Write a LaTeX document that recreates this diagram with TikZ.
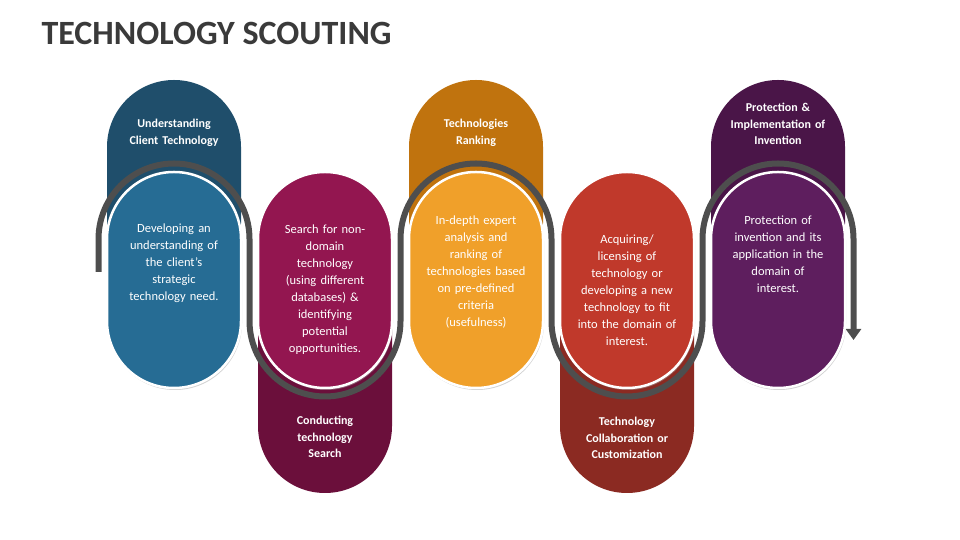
\documentclass[tikz,border=0pt]{standalone}
\usepackage{fontspec}
\setmainfont{Carlito}
\usetikzlibrary{arrows.meta}
\definecolor{cA}{HTML}{1F4E6B}\definecolor{cAf}{HTML}{266C94}
\definecolor{cB}{HTML}{6B0F3B}\definecolor{cBf}{HTML}{931650}
\definecolor{cC}{HTML}{C0730E}\definecolor{cCf}{HTML}{F0A02A}
\definecolor{cD}{HTML}{8B2A22}\definecolor{cDf}{HTML}{C0392B}
\definecolor{cE}{HTML}{4A1548}\definecolor{cEf}{HTML}{5E1E5E}
\definecolor{ttl}{HTML}{3A3A3A}
\tikzset{
 backpill/.style={rounded corners=66.9pt},
 frontpill/.style={rounded corners=66.9pt, draw=white, line width=2.5pt},
 lbl/.style={text=white, font=\bfseries\fontsize{12}{16.5}\selectfont, align=center, text width=120pt},
 body/.style={text=white, font=\fontsize{12.5}{17}\selectfont, align=center, text width=120pt},
 snake/.style={draw=ttl!90, line width=6pt},
}
\begin{document}
\begin{tikzpicture}[x=1pt,y=1pt]
\useasboundingbox (0,0) rectangle (960,540);
\node[anchor=west, text=ttl, font=\bfseries\fontsize{34}{40}\selectfont] (title) at (38,507) {TECHNOLOGY SCOUTING};
% back pills
\fill[cA,backpill] (107,250) rectangle (241,460);
\fill[cB,backpill] (258,47) rectangle (392,290);
\fill[cC,backpill] (409,250) rectangle (543,460);
\fill[cD,backpill] (560,47) rectangle (694,290);
\fill[cE,backpill] (711,250) rectangle (845,460);
% serpentine
\coordinate (s0) at (98.5,268);
\coordinate (s9) at (853.5,200);
\draw[snake,-{Triangle[width=15pt,length=11pt]}] (s0) -- (98.5,301) arc(180:0:75.5) -- (249.5,219) arc(180:360:75.5) -- (400.5,301) arc(180:0:75.5) -- (551.5,219) arc(180:360:75.5) -- (702.5,301) arc(180:0:75.5) -- (s9);
% front pills
\foreach \x/\c in {174/cAf,325/cBf,476/cCf,627/cDf,778/cEf}{
 \fill[black!35,backpill,opacity=0.5] (\x-66,150) rectangle (\x+68,366);
 \filldraw[fill=\c,frontpill] (\x-67,152) rectangle (\x+67,368);
}
\node[lbl] (l1) at (174,407) {Understanding\\Client Technology};
\node[lbl] (l2) at (325,103) {Conducting\\technology\\Search};
\node[lbl] (l3) at (476,407) {Technologies\\Ranking};
\node[lbl] (l4) at (627,102) {Technology\\Collaboration or\\Customization};
\node[lbl] (l5) at (778,416) {Protection \&\\Implementation of\\Invention};
\node[body] (b1) at (174,277) {Developing an\\understanding of\\the client’s\\strategic\\technology need.};
\node[body] (b2) at (325,250) {Search for non-\\domain\\technology\\(using different\\databases) \&\\identifying\\potential\\opportunities.};
\node[body] (b3) at (476,268) {In-depth expert\\analysis and\\ranking of\\technologies based\\on pre-defined\\criteria\\(usefulness)};
\node[body] (b4) at (627,250) {Acquiring/\\licensing of\\technology or\\developing a new\\technology to fit\\into the domain of\\interest.};
\node[body] (b5) at (778,286) {Protection of\\invention and its\\application in the\\domain of\\interest.};
\end{tikzpicture}
\end{document}
